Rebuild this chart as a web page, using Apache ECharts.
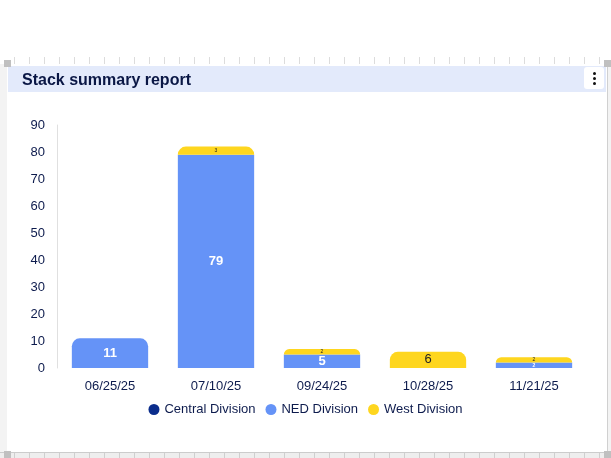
<!DOCTYPE html>
<html>
<head>
<meta charset="utf-8">
<script src="https://cdn.jsdelivr.net/npm/echarts@6/dist/echarts.min.js"></script>
<style>
	html, body {
		margin: 0;
		padding: 0;
		width: 611px;
		height: 458px;
		overflow: hidden;
		background: #fff;
		font-family: Arial, "Liberation Sans", sans-serif;
	}
	.ruler-top {
		position: absolute;
		left: 0; top: 57px;
		width: 611px; height: 7px;
		background: repeating-linear-gradient(90deg, transparent 0, transparent 14px, #dcdcdc 14px, #dcdcdc 15px);
	}
	.ruler-bottom {
		position: absolute;
		left: 0; top: 452px;
		width: 611px; height: 6px;
		background: #eeeeee repeating-linear-gradient(90deg, transparent 0, transparent 14px, #cfcfcf 14px, #cfcfcf 15px);
		border-top: 1px solid #cccccc;
	}
	.side-left {
		position: absolute;
		left: 0; top: 64px;
		width: 7px; height: 388px;
		background: #f3f3f3;
	}
	.side-right {
		position: absolute;
		left: 607px; top: 64px;
		width: 4px; height: 388px;
		background: #f3f3f3;
		border-left: 1px solid #d0d0d0;
	}
	.panel {
		position: absolute;
		left: 7px; top: 64px;
		width: 600px; height: 388px;
		background: #fff;
	}
	.header {
		position: absolute;
		left: 8px; top: 66px;
		width: 598px; height: 26px;
		background: #e3eafb;
	}
	.menu {
		position: absolute;
		left: 584px; top: 67px;
		width: 20px; height: 22px;
		background: #fff;
		border-radius: 3px;
	}
	.menu i {
		position: absolute;
		left: 9px;
		width: 3px; height: 3px;
		border-radius: 50%;
		background: #111;
	}
	.corner {
		position: absolute;
		width: 7px; height: 7px;
		background: #c0c0c0;
	}
	#chart {
		position: absolute;
		left: 0; top: 0;
		width: 611px; height: 458px;
	}
</style>
</head>
<body>
<div class="ruler-top"></div>
<div class="side-left"></div>
<div class="side-right"></div>
<div class="panel"></div>
<div class="ruler-bottom"></div>
<div class="header"></div>
<div class="menu"><i style="top:5px"></i><i style="top:10px"></i><i style="top:15px"></i></div>
<div class="corner" style="left:4px; top:60px;"></div>
<div class="corner" style="left:604px; top:60px;"></div>
<div class="corner" style="left:4px; top:451px;"></div>
<div class="corner" style="left:604px; top:451px;"></div>
<div id="chart"></div>

<script>
// chart data
var dates = ['06/25/25', '07/10/25', '09/24/25', '10/28/25', '11/21/25'];
var central = [0, 0, 0, 0, 0];
var ned = [11, 79, 5, 0, 2];
var west = [0, 3, 2, 6, 2];
var yTicks = [0, 90, 10]; // min, max, interval

var textColor = '#0d1b4d';
var colors = {
	central: '#0b2d8c',
	ned: '#6593f7',
	west: '#fed61f'
};

// round the top of whichever segment ends the stack
function buildData(values, isTop, smallFont) {
	return values.map(function (v, i) {
		var item = { value: v };
		if (isTop(i)) {
			item.itemStyle = { borderRadius: [8, 8, 0, 0] };
		}
		if (v > 0 && v < 4) {
			item.label = { fontSize: smallFont };
		}
		return item;
	});
}

function hideZero(p) {
	return p.value > 0 ? p.value : '';
}

var chartDom = document.getElementById('chart');
var myChart = echarts.init(chartDom, null, { renderer: 'canvas' });
var option;
option = {
	animation: false,
	textStyle: {
		fontFamily: 'Arial, "Liberation Sans", sans-serif'
	},
	title: {
		text: 'Stack summary report',
		left: 17,
		top: 68,
		textStyle: {
			color: '#0a1745',
			fontSize: 16,
			fontWeight: 'bold'
		}
	},
	legend: {
		data: ['Central Division', 'NED Division', 'West Division'],
		top: 398,
		left: 'center',
		icon: 'circle',
		itemWidth: 11,
		itemHeight: 11,
		itemGap: 10,
		textStyle: {
			color: textColor,
			fontSize: 13
		}
	},
	grid: {
		left: 57,
		right: 24,
		top: 125,
		bottom: 90
	},
	xAxis: {
		type: 'category',
		data: dates,
		axisLine: { show: false },
		axisTick: { show: false },
		axisLabel: {
			color: textColor,
			fontSize: 13,
			margin: 12
		}
	},
	yAxis: {
		type: 'value',
		min: yTicks[0],
		max: yTicks[1],
		interval: yTicks[2],
		axisLine: {
			show: true,
			lineStyle: { color: '#e0e0e0' }
		},
		axisTick: { show: false },
		splitLine: { show: false },
		axisLabel: {
			color: textColor,
			fontSize: 13,
			margin: 12
		}
	},
	series: [
		{
			name: 'Central Division',
			type: 'bar',
			stack: 'total',
			barWidth: '72%',
			itemStyle: { color: colors.central },
			label: { show: true, position: 'inside', color: '#fff', fontSize: 13, fontWeight: 'bold', formatter: hideZero },
			data: buildData(central, function () { return false; }, 5)
		},
		{
			name: 'NED Division',
			type: 'bar',
			stack: 'total',
			barWidth: '72%',
			itemStyle: { color: colors.ned },
			label: { show: true, position: 'inside', color: '#fff', fontSize: 13, fontWeight: 'bold', formatter: hideZero },
			data: buildData(ned, function (i) { return west[i] === 0; }, 5)
		},
		{
			name: 'West Division',
			type: 'bar',
			stack: 'total',
			barWidth: '72%',
			itemStyle: { color: colors.west },
			label: { show: true, position: 'inside', color: '#222', fontSize: 13, formatter: hideZero },
			data: buildData(west, function () { return true; }, 5)
		}
	]
};
option && myChart.setOption(option);
</script>
</body>
</html>
